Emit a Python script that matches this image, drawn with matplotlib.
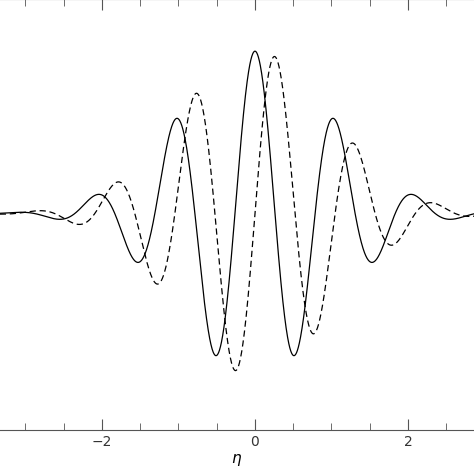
import numpy as np
import matplotlib
matplotlib.use("Agg")
import matplotlib.pyplot as plt
from matplotlib.ticker import MultipleLocator

# Morlet wavelet (omega0 = 6), real (solid) and imaginary (dashed) parts
omega0 = 6.0
eta = np.linspace(-3.4, 3.0, 2000)
real_part = np.cos(omega0 * eta) * np.exp(-eta**2 / 2)
imag_part = np.sin(omega0 * eta) * np.exp(-eta**2 / 2)
xticks = [-2, 0, 2]
xticklabels = ["\u22122", "0", "2"]

fig = plt.figure(figsize=(4.74, 4.74), dpi=100)
ax = fig.add_axes([0, 1 - 430 / 474, 1, 430 / 474 + 0.002])
ax.plot(eta, real_part, color="black", lw=0.9)
ax.plot(eta, imag_part, color="black", lw=0.9, ls=(0, (5, 3)))
ax.set_xlim(-3.333, 2.863)
ax.set_ylim(-1.333, 1.321)
ax.spines["left"].set_visible(False)
ax.spines["right"].set_visible(False)
for s in ("top", "bottom"):
    ax.spines[s].set_color("#555555")
ax.set_yticks([])
ax.set_xticks(xticks)
ax.set_xticklabels(xticklabels, fontsize=10, color="#333333")
ax.xaxis.set_minor_locator(MultipleLocator(0.5))
ax.tick_params(axis="x", which="major", direction="in", length=8, top=True, color="#555555")
ax.tick_params(axis="x", which="minor", direction="in", length=5, top=True, color="#555555")
ax.set_xlabel(r"$\eta$", fontsize=11, labelpad=2)
fig.savefig("out.png", dpi=100)
